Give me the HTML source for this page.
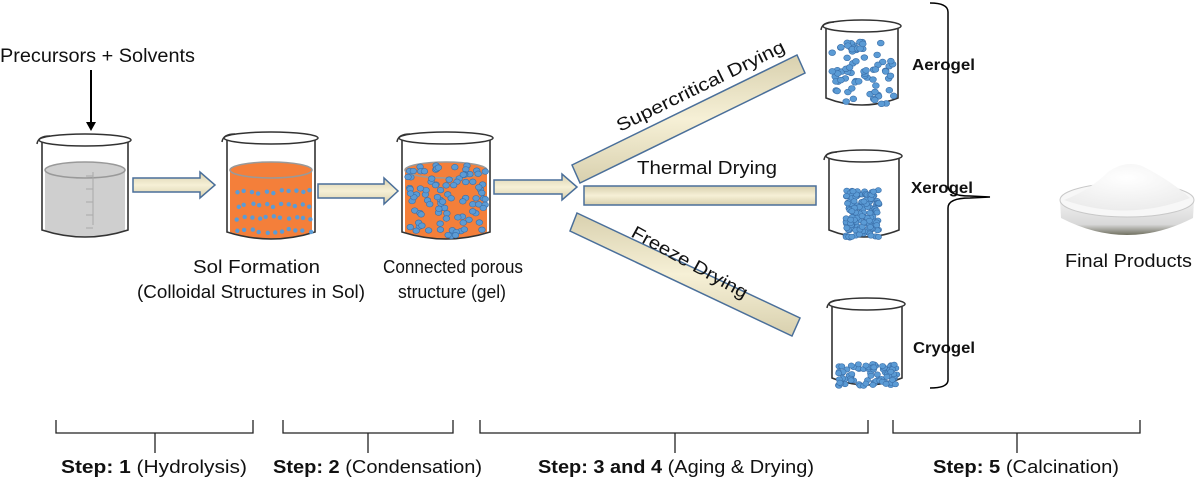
<!DOCTYPE html>
<html><head><meta charset="utf-8"><style>
html,body{margin:0;padding:0;background:#fff;}
svg{display:block;font-family:"Liberation Sans",sans-serif;}
</style></head><body>
<svg id="s" width="1200" height="479" viewBox="0 0 1200 479" xmlns="http://www.w3.org/2000/svg">
<defs>
<linearGradient id="ag" x1="0" y1="0" x2="0" y2="1"><stop offset="0" stop-color="#d8d0ae"/><stop offset=".5" stop-color="#f6f0d6"/><stop offset="1" stop-color="#d8d0ae"/></linearGradient>
<radialGradient id="pw" cx=".5" cy=".3" r=".7"><stop offset="0" stop-color="#fff"/><stop offset="1" stop-color="#ececec"/></radialGradient>
<linearGradient id="dish" x1="0" y1="0" x2="0" y2="1"><stop offset="0" stop-color="#f0f0f0"/><stop offset=".7" stop-color="#d8d8d8"/><stop offset="1" stop-color="#707060"/></linearGradient>
</defs>
<text x="0" y="62" font-size="19" fill="#111" textLength="195" lengthAdjust="spacingAndGlyphs">Precursors + Solvents</text>
<line x1="91" y1="70" x2="91" y2="124" stroke="#000" stroke-width="2"/>
<polygon points="86,122 96,122 91,131" fill="#000"/>
<g id="g"></g>
<g stroke="#4a6f9a" stroke-width="1.5" fill="url(#ag)">
<polygon points="133,178 200,178 200,172 215,185 200,198 200,192 133,192"/>
<polygon points="318,184 384,184 384,178 398,191 384,204 384,198 318,198"/>
<polygon points="494,180 562,180 562,174 577,187 562,200 562,194 494,194"/>
<polygon points="572,165 797,55 805,73 580,183"/>
<rect x="584" y="186" width="232" height="19"/>
<polygon points="577,213 800,318 792,336 570,231"/>
</g>
<g font-size="18" fill="#111">
<text transform="translate(620,132) rotate(-26)" textLength="185" lengthAdjust="spacingAndGlyphs">Supercritical Drying</text>
<text x="637" y="174" textLength="140" lengthAdjust="spacingAndGlyphs">Thermal Drying</text>
<text transform="translate(630,236) rotate(29)" textLength="130" lengthAdjust="spacingAndGlyphs">Freeze Drying</text>
<text x="193" y="273" textLength="127" lengthAdjust="spacingAndGlyphs">Sol Formation</text>
<text x="137" y="298" textLength="228" lengthAdjust="spacingAndGlyphs">(Colloidal Structures in Sol)</text>
<text x="383" y="273" textLength="140" lengthAdjust="spacingAndGlyphs">Connected porous</text>
<text x="398" y="298" textLength="108" lengthAdjust="spacingAndGlyphs">structure (gel)</text>
<text x="1065" y="267" textLength="127" lengthAdjust="spacingAndGlyphs">Final Products</text>
</g>
<g font-size="16" font-weight="bold" fill="#111">
<text x="912" y="70" textLength="63" lengthAdjust="spacingAndGlyphs">Aerogel</text>
<text x="911" y="193" textLength="62" lengthAdjust="spacingAndGlyphs">Xerogel</text>
<text x="913" y="353" textLength="62" lengthAdjust="spacingAndGlyphs">Cryogel</text>
</g>
<path d="M930,3 Q948,3 948,12 L948,186 Q948,196 970,196 L990,197 L970,198 Q948,198 948,208 L948,380 Q948,388 930,388" fill="none" stroke="#000" stroke-width="1.5"/>
<!-- dish -->
<path d="M1060,200 L1061,218 Q1127,252 1193,218 L1194,200 Z" fill="url(#dish)"/>
<ellipse cx="1127" cy="200" rx="67" ry="17" fill="#f7f7f7" stroke="#c8c8c8"/>
<path d="M1064,200 Q1090,190 1108,172 Q1125,160 1142,166 Q1170,180 1190,198 Q1127,222 1064,200 Z" fill="url(#pw)"/>
<g fill="none" stroke="#222" stroke-width="1.3">
<path d="M56,420 L56,433 L253,433 L253,420 M155,433 L155,453"/>
<path d="M283,420 L283,433 L453,433 L453,420 M368,433 L368,453"/>
<path d="M480,420 L480,433 L868,433 L868,420 M675,433 L675,453"/>
<path d="M893,420 L893,433 L1140,433 L1140,420 M1017,433 L1017,453"/>
</g>
<g font-size="18" fill="#111">
<text x="61" y="473" textLength="186" lengthAdjust="spacingAndGlyphs"><tspan font-weight="bold">Step: 1</tspan> (Hydrolysis)</text>
<text x="273" y="473" textLength="209" lengthAdjust="spacingAndGlyphs"><tspan font-weight="bold">Step: 2</tspan> (Condensation)</text>
<text x="538" y="473" textLength="276" lengthAdjust="spacingAndGlyphs"><tspan font-weight="bold">Step: 3 and 4</tspan> (Aging &amp; Drying)</text>
<text x="933" y="473" textLength="186" lengthAdjust="spacingAndGlyphs"><tspan font-weight="bold">Step: 5</tspan> (Calcination)</text>
</g>
</svg>
<script>
var NS="http://www.w3.org/2000/svg",g=document.getElementById('g');
function el(t,a){var e=document.createElementNS(NS,t);for(var k in a)e.setAttribute(k,a[k]);g.appendChild(e);return e;}
var seed=7;function r(){seed=(seed*9301+49297)%233280;return seed/233280;}
function beaker(x,y,w,h,fill,fillTop){
 if(fill){el('path',{d:`M${x+3},${fillTop} L${x+3},${y+h-10} Q${x+w/2},${y+h+4} ${x+w-3},${y+h-10} L${x+w-3},${fillTop} Z`,fill:fill});
  el('ellipse',{cx:x+w/2,cy:fillTop,rx:w/2-3,ry:8,fill:fill,stroke:'#999','stroke-width':1.5});}
 el('path',{d:`M${x},${y+8} L${x},${y+h-10} Q${x+w/2},${y+h+4} ${x+w},${y+h-10} L${x+w},${y+8}`,fill:'none',stroke:'#333','stroke-width':1.6});
 el('ellipse',{cx:x+w/2,cy:y+6,rx:w/2+3,ry:6,fill:'none',stroke:'#333','stroke-width':1.5});
 el('path',{d:`M${x-5},${y+10} Q${x-4},${y+2} ${x+8},${y+2}`,fill:'none',stroke:'#333','stroke-width':1.5});
}
function dots(n,x0,y0,x1,y1,rad){for(var i=0;i<n;i++){var yy=y0+r()*(y1-y0);var xx=x0+r()*(x1-x0);el('ellipse',{cx:xx,cy:yy,rx:rad,ry:rad*0.85,fill:'#5b9bd5',stroke:'#3a6ea8','stroke-width':.6});}}
beaker(42,134,86,106,'#cfcfcf',170);
for(var i=0;i<5;i++)el('line',{x1:86,y1:176+i*13,x2:93,y2:176+i*13,stroke:'#aaa'});
el('line',{x1:93,y1:172,x2:93,y2:225,stroke:'#aaa'});
beaker(227,132,88,110,'#f47f3a',170);
for(var row=0;row<4;row++)for(var c=0;c<11;c++){el('circle',{cx:236+c*7.3+(r()*3),cy:190+row*13+r()*4,r:2.2,fill:'#5b9bd5'});}
beaker(402,132,88,110,'#f47f3a',170);
dots(95,408,165,486,238,3.3);
beaker(826,20,72,88,null);
dots(75,832,42,894,106,3.4);
beaker(829,150,70,90,null);
dots(160,846,190,879,238,3.1);
beaker(832,298,70,90,null);
dots(80,838,364,898,386,3.1);
</script>
</body></html>
